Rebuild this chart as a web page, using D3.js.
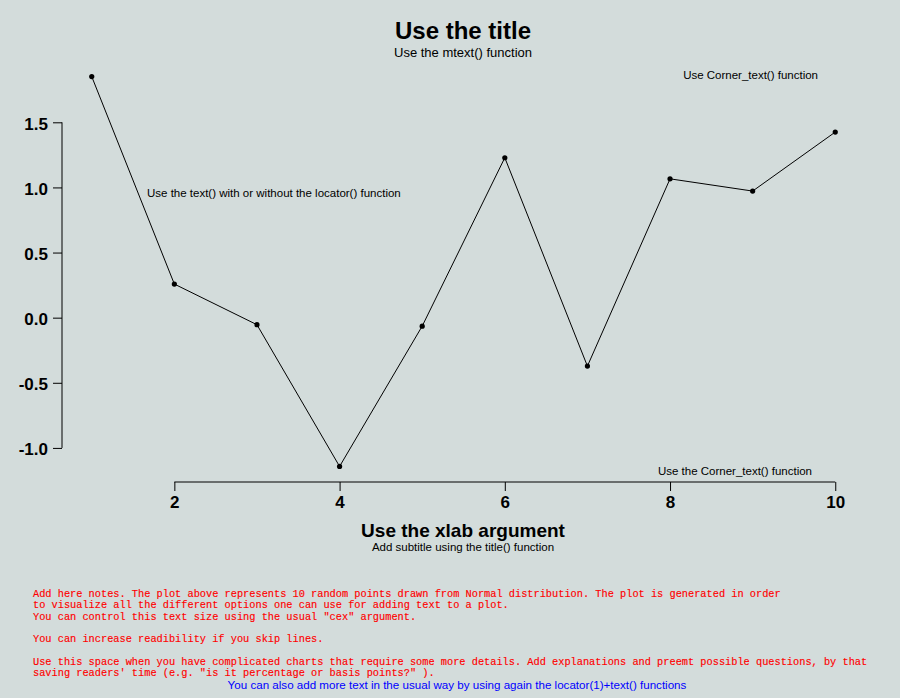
<!DOCTYPE html>
<html>
<head>
<meta charset="utf-8">
<script src="https://cdn.jsdelivr.net/npm/d3@7"></script>
<style>
  body { margin: 0; background: #d3dcdb; }
  svg { display: block; font-family: "Liberation Sans", Arial, sans-serif; }
</style>
</head>
<body>
<div id="chart"></div>
<script>
// data
const xValues = [1, 2, 3, 4, 5, 6, 7, 8, 9, 10];
const yValues = [1.851, 0.258, -0.054, -1.142, -0.065, 1.228, -0.372, 1.066, 0.972, 1.425];
const xTicks = [2, 4, 6, 8, 10];
const yTicks = [-1.0, -0.5, 0.0, 0.5, 1.0, 1.5];
const noteLines = [
    'Add here notes. The plot above represents 10 random points drawn from Normal distribution. The plot is generated in order',
    'to visualize all the different options one can use for adding text to a plot.',
    'You can control this text size using the usual "cex" argument.',
    '',
    'You can increase readibility if you skip lines.',
    '',
    'Use this space when you have complicated charts that require some more details. Add explanations and preemt possible questions, by that',
    'saving readers\' time (e.g. "is it percentage or basis points?" ).'
];

// set dimensions
const width = 900,
    height = 698,
    plot = { left: 62, right: 865, top: 61, bottom: 482 };

const svg = d3.select("#chart")
    .append("svg")
    .attr("width", width)
    .attr("height", height);

svg.append("rect")
    .attr("width", width)
    .attr("height", height)
    .attr("fill", "#d3dcdb");

// scales (R style 4% padding)
const xPad = (d3.max(xValues) - d3.min(xValues)) * 0.04;
const yPad = (d3.max(yValues) - d3.min(yValues)) * 0.04;
const xScale = d3.scaleLinear()
    .domain([d3.min(xValues) - xPad, d3.max(xValues) + xPad])
    .range([plot.left, plot.right]);
const yScale = d3.scaleLinear()
    .domain([d3.min(yValues) - yPad, d3.max(yValues) + yPad])
    .range([plot.bottom, plot.top]);

// axes
const fmt = d => d3.format(".1f")(d).replace("\u2212", "-");

const xAxis = svg.append("g")
    .attr("transform", `translate(0,${plot.bottom})`)
    .call(d3.axisBottom(xScale).tickValues(xTicks).tickSize(9).tickPadding(5).tickFormat(d3.format("d")));
xAxis.select(".domain").remove();
xAxis.append("line")
    .attr("x1", xScale(d3.min(xTicks)))
    .attr("x2", xScale(d3.max(xTicks)))
    .attr("stroke", "#000");

const yAxis = svg.append("g")
    .attr("transform", `translate(${plot.left},0)`)
    .call(d3.axisLeft(yScale).tickValues(yTicks).tickSize(9).tickPadding(5).tickFormat(fmt));
yAxis.select(".domain").remove();
yAxis.append("line")
    .attr("y1", yScale(d3.min(yTicks)))
    .attr("y2", yScale(d3.max(yTicks)))
    .attr("stroke", "#000");

svg.selectAll(".tick text")
    .attr("font-family", "Liberation Sans, Arial, sans-serif")
    .attr("font-size", 17)
    .attr("font-weight", "bold")
    .attr("fill", "#000");
yAxis.selectAll(".tick text").attr("dy", "0.4em");

// line and points
const line = d3.line()
    .x((d, i) => xScale(xValues[i]))
    .y(d => yScale(d));

svg.append("path")
    .datum(yValues)
    .attr("d", line)
    .attr("fill", "none")
    .attr("stroke", "#000")
    .attr("stroke-width", 1);

svg.append("g")
    .selectAll("circle")
    .data(yValues)
    .enter()
    .append("circle")
    .attr("cx", (d, i) => xScale(xValues[i]))
    .attr("cy", d => yScale(d))
    .attr("r", 2.6)
    .attr("fill", "#000");

// texts
const addText = (txt, x, y, size, anchor, opts = {}) => svg.append("text")
    .attr("x", x)
    .attr("y", y)
    .attr("font-size", size)
    .attr("text-anchor", anchor)
    .attr("font-weight", opts.bold ? "bold" : "normal")
    .attr("fill", opts.color || "#000")
    .attr("font-family", opts.family || null)
    .text(txt);

addText("Use the title", 463, 39, 24, "middle", { bold: true });
addText("Use the mtext() function", 463, 57, 13, "middle");
addText("Use Corner_text() function", 818, 79, 11.5, "end");
addText("Use the text() with or without the locator() function", 147, 197, 11.5, "start");
addText("Use the Corner_text() function", 812, 475, 11.5, "end");
addText("Use the xlab argument", 463, 537, 19, "middle", { bold: true });
addText("Add subtitle using the title() function", 463, 551, 11.5, "middle");

// notes
noteLines.forEach((t, i) => {
    addText(t, 33, 597 + i * 11.3, 10.3, "start", { color: "#ff0000", family: "Liberation Mono, Courier New, monospace" })
        .attr("xml:space", "preserve")
        .attr("stroke", "#ff0000")
        .attr("stroke-width", 0.15);
});
addText("You can also add more text in the usual way by using again the locator(1)+text() functions", 457, 689, 11.6, "middle", { color: "#0000ff" });
</script>
</body>
</html>
